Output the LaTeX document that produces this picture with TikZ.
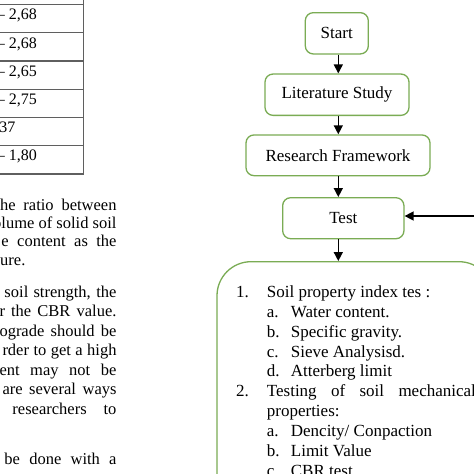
\documentclass[tikz,border=0pt]{standalone}
\usepackage{fontspec}
\setmainfont{Liberation Serif}
\usetikzlibrary{arrows.meta,positioning}
\definecolor{leaf}{RGB}{122,172,84}
\definecolor{rulegray}{RGB}{95,95,95}

\begin{document}
\begin{tikzpicture}[x=1pt,y=-1pt,
    flowbox/.style={draw=leaf, line width=1.3pt, rounded corners=8pt, fill=white,
                    font=\fontsize{17}{20}\selectfont, inner sep=0pt},
    flowarrow/.style={-{Triangle[width=9pt,length=9pt]}, line width=1.4pt},
    bodytext/.style={font=\fontsize{16.5}{18}\selectfont, anchor=base east, inner sep=0pt},
    listtext/.style={font=\fontsize{17}{20}\selectfont, anchor=base west, inner sep=0pt}]

    \clip (0,0) rectangle (474,474);
    \fill[white] (0,0) rectangle (474,474);

    % Table (right edge of the page column)
    \foreach \y in {4.3,32.7,61,89.3,117.7,145.7,174} {
        \draw[rulegray, line width=1.1pt] (-5,\y) -- (83.3,\y);
    }
    \draw[rulegray, line width=1.4pt] (83.3,-5) -- (83.3,174.5);
    \foreach \val/\y [count=\i] in {{\textendash{} 2,68}/19.3, {\textendash{} 2,68}/48,
                                    {\textendash{} 2,65}/76.3, {\textendash{} 2,75}/104.5,
                                    {\textendash{} 1,80}/160.5} {
        \node[font=\fontsize{16}{18}\selectfont, anchor=base east, inner sep=0pt]
            (row\i) at (37,\y) {\val};
    }
    \node[font=\fontsize{16}{18}\selectfont, anchor=base east, inner sep=0pt]
        (row6) at (15.5,132.3) {37};

    % Body text
    \node[bodytext] (par1) at (116.7,210)   {\makebox[121pt][s]{the ratio between}};
    \node[bodytext] (par2) at (116.7,228.3) {volume of solid soil};
    \node[bodytext] (par3) at (116.7,246.7) {\makebox[115pt][s]{e content as the}};
    \node[bodytext, anchor=base west] (par4) at (0,265) {ure.};
    \node[bodytext] (par5) at (116.7,297.7) {\makebox[112pt][s]{soil strength, the}};
    \node[bodytext] (par6) at (116.7,316)   {\makebox[117pt][s]{r the CBR value.}};
    \node[bodytext] (par7) at (116.7,336.7) {\makebox[117pt][s]{ograde should be}};
    \node[bodytext] (par8) at (116.7,355)   {\makebox[114pt][s]{rder to get a high}};
    \node[bodytext] (par9) at (116.7,375)   {\makebox[117pt][s]{ent may not be}};
    \node[bodytext] (par10) at (116.7,394)  {\makebox[114pt][s]{are several ways}};
    \node[bodytext] (par11) at (116.7,414)  {\makebox[104pt][s]{researchers to}};
    \node[bodytext] (par12) at (116.7,464)  {\makebox[112pt][s]{be done with a}};

    % Flowchart
    \coordinate (axis) at (338.3,0);
    \node[flowbox, minimum width=63pt, minimum height=41.3pt] (start) at (336.8,33.3) {Start};
    \node[flowbox, minimum width=144pt, minimum height=41.3pt] (litstudy) at (337,94.7) {Literature Study};
    \node[flowbox, minimum width=184pt, minimum height=40.7pt] (framework) at (338,155.3) {Research Framework};
    \node[flowbox, minimum width=121.3pt, minimum height=41pt] (test) at (343.3,218.2) {Test};
    \node[flowbox, rounded corners=34pt, minimum width=276pt, minimum height=260pt]
        (testlist) at (355,391.7) {};

    \draw[flowarrow] (start.south -| axis) -- (litstudy.north -| axis);
    \draw[flowarrow] (litstudy.south -| axis) -- (framework.north -| axis);
    \draw[flowarrow] (framework.south -| axis) -- (test.north -| axis);
    \draw[flowarrow] (test.south -| axis) -- (testlist.north -| axis);

    % Feedback into the test step
    \coordinate (loopin) at (480,216);
    \draw[flowarrow] (loopin) -- (loopin -| test.east);

    % Test list
    \node[listtext] (n1) at (236,297.3) {1.};
    \node[listtext] (t1) at (266.7,297.3) {Soil property index tes :};
    \foreach \lab/\txt/\y [count=\i] in {a./{Water content.}/317.2, b./{Specific gravity.}/337.1,
                                         c./{Sieve Analysisd.}/357, d./{Atterberg limit}/376.9} {
        \node[listtext] (la\i) at (266.7,\y) {\lab};
        \node[listtext] (ta\i) at (290.7,\y) {\txt};
    }
    \node[listtext] (n2) at (236,396.8) {2.};
    \node[listtext] (t2) at (266.7,396.8) {\makebox[209pt][s]{Testing of soil mechanical}};
    \node[listtext] (t2b) at (266.7,416.7) {properties:};
    \foreach \lab/\txt/\y [count=\i] in {a./{Dencity/ Conpaction}/436.6, b./{Limit Value}/456.5,
                                         c./{CBR test}/476.4} {
        \node[listtext] (lb\i) at (266.7,\y) {\lab};
        \node[listtext] (tb\i) at (290.7,\y) {\txt};
    }

\end{tikzpicture}
\end{document}
